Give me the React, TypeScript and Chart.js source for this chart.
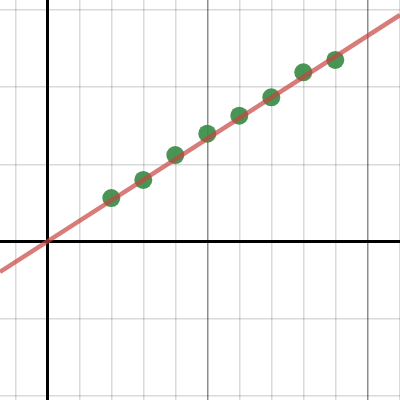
import { useEffect, useRef } from 'react';
import { Chart, ChartConfiguration } from 'chart.js/auto';

const pointX = [2, 3, 4, 5, 6, 7, 8, 9];
const pointY = [0.563, 0.797, 1.12, 1.396, 1.63, 1.868, 2.192, 2.351];

// fitted line, endpoints at the left and right edge of the view
const lineX = [-1.478, 11.022];
const lineY = [-0.394, 2.934];

// visible window
const xRange = [-1.478, 11.022];
const yRange = [-2.053, 3.128];

const isInt = (v: number) => Math.abs(v - Math.round(v)) < 1e-6;

export default function App() {
  const chartRef = useRef<HTMLCanvasElement>(null);
  const chartInstance = useRef<Chart | null>(null);

  useEffect(() => {
    document.body.style.margin = '0';
    if (!chartRef.current) return;
    if (chartInstance.current) chartInstance.current.destroy();
    const ctx = chartRef.current.getContext('2d');
    if (!ctx) return;

    const gridColor = (major: boolean) => (c: any) => {
      const v = c.tick?.value;
      if (v === undefined || !isInt(v)) return 'rgba(0,0,0,0)';
      if (v === 0) return '#000000';
      if (major && Math.round(v) % 5 === 0) return 'rgba(0,0,0,0.45)';
      return 'rgba(0,0,0,0.15)';
    };
    const gridWidth = (c: any) => (c.tick?.value === 0 ? 3 : 1.5);

    const config: ChartConfiguration<'scatter'> = {
      type: 'scatter',
      data: {
        datasets: [
          {
            type: 'line' as any,
            data: lineX.map((x, i) => ({ x, y: lineY[i] })),
            borderColor: 'rgba(199,68,64,0.7)',
            borderWidth: 4.5,
            pointRadius: 0,
            showLine: true,
            fill: false,
            order: 0,
          } as any,
          {
            data: pointX.map((x, i) => ({ x, y: pointY[i] })),
            backgroundColor: 'rgba(56,140,70,0.92)',
            borderWidth: 0,
            pointRadius: 9,
            order: 1,
          },
        ],
      },
      options: {
        animation: false,
        responsive: true,
        maintainAspectRatio: false,
        layout: { padding: 0, autoPadding: false },
        plugins: {
          legend: { display: false },
          tooltip: { enabled: false },
        },
        scales: {
          x: {
            type: 'linear',
            min: xRange[0],
            max: xRange[1],
            ticks: { stepSize: 1, display: false, includeBounds: false },
            grid: { color: gridColor(true), lineWidth: gridWidth, drawTicks: false },
            border: { display: false },
          },
          y: {
            type: 'linear',
            min: yRange[0],
            max: yRange[1],
            ticks: { stepSize: 1, display: false, includeBounds: false },
            grid: { color: gridColor(false), lineWidth: gridWidth, drawTicks: false },
            border: { display: false },
          },
        },
      },
    };

    chartInstance.current = new Chart(ctx, config);
    return () => {
      if (chartInstance.current) {
        chartInstance.current.destroy();
        chartInstance.current = null;
      }
    };
  }, []);

  return (
    <div style={{ width: 400, height: 400, position: 'relative', background: '#fff' }}>
      <canvas ref={chartRef}></canvas>
    </div>
  );
}
